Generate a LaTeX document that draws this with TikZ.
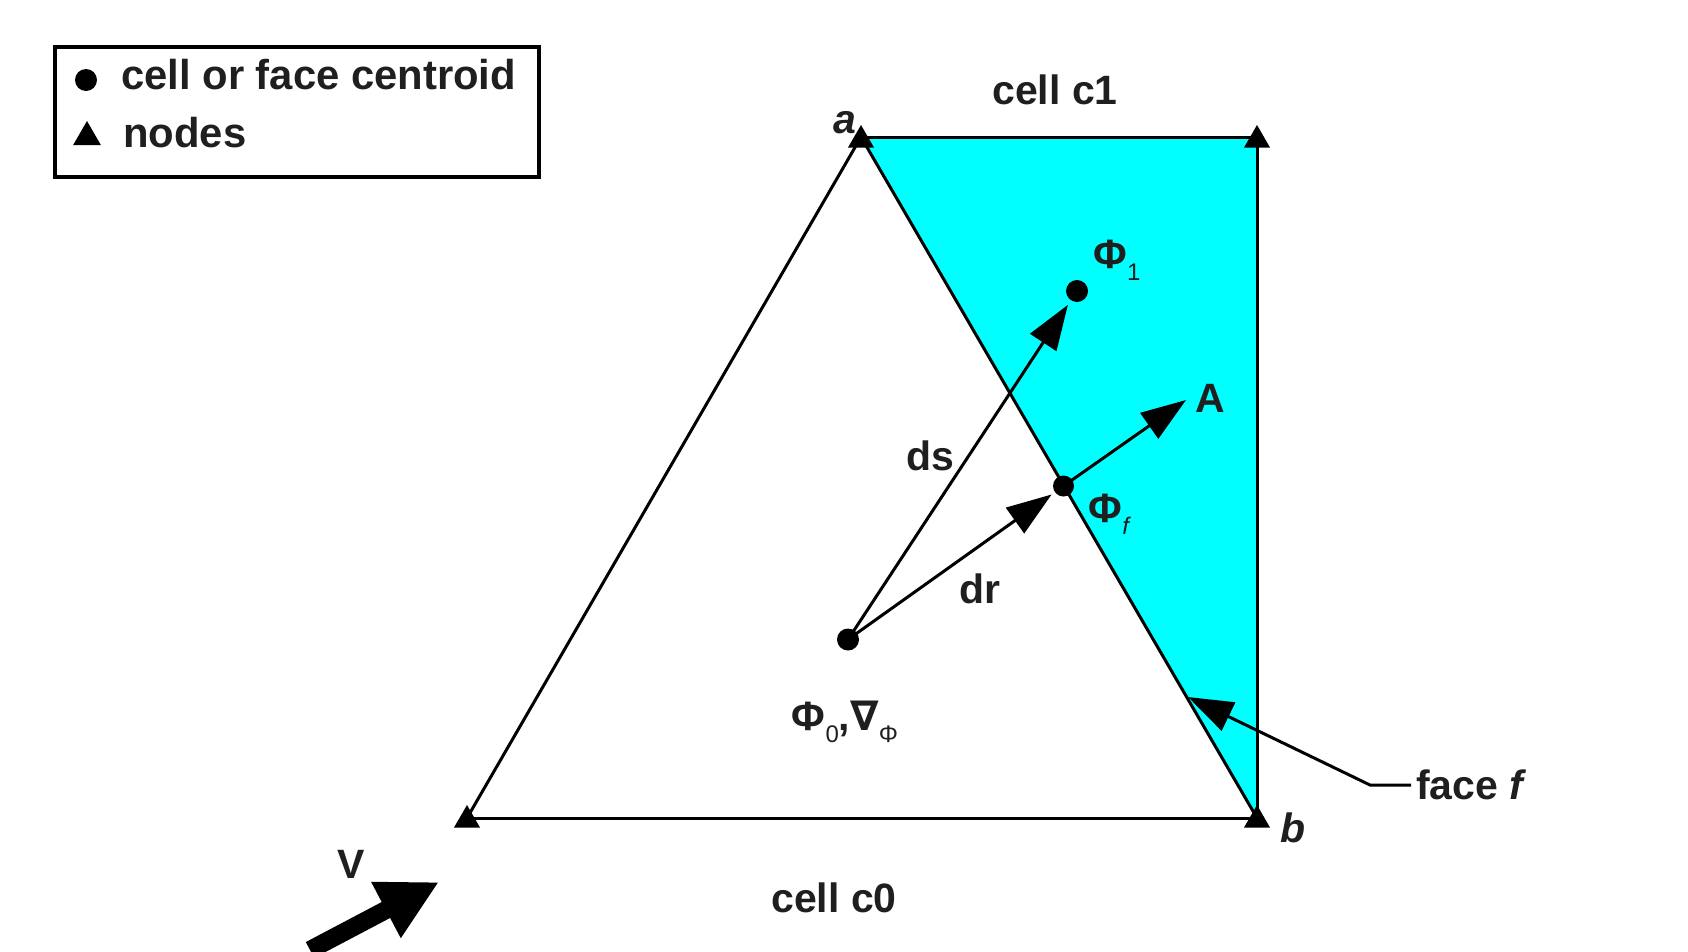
\documentclass[tikz,border=0pt]{standalone}
\usepackage{fontspec}
\setmainfont{Liberation Sans}
\newfontfamily\symfont{DejaVu Sans}
\usetikzlibrary{arrows.meta,shapes.geometric}
\definecolor{cellcyan}{rgb}{0,1,1}
\newcommand{\lowsub}[1]{\raisebox{-0.3em}{\fontsize{24}{24}\selectfont\mdseries #1}}
\tikzset{
  lbl/.style={inner sep=0pt,font=\fontsize{41}{44}\selectfont\bfseries,text=black!88},
  lblit/.style={lbl,font=\fontsize{41}{44}\selectfont\bfseries\itshape},
  legendlbl/.style={lbl,font=\fontsize{41.8}{44}\selectfont\bfseries},
  dotnode/.style={circle,fill=black,inner sep=0pt,minimum size=22pt},
  vertexmark/.style={regular polygon,regular polygon sides=3,fill=black,inner sep=0pt,minimum size=30pt},
  edgeline/.style={line width=3pt,black},
  vecline/.style={line width=3pt,black,-{Triangle[length=45pt,width=31pt]}},
}
\begin{document}
\begin{tikzpicture}[x=1pt,y=-1pt]
\useasboundingbox (0,0) rectangle (1688,951);
% corners of the cells
\coordinate (a) at (861,137);
\coordinate (c) at (1257,137);
\coordinate (b) at (1257,818);
\coordinate (d) at (467,818);
% fill of cell c1
\fill[cellcyan] (a) -- (c) -- (b) -- cycle;
% edges
\draw[edgeline] (a) -- (c);
\draw[edgeline] (c) -- (b);
\draw[edgeline] (a) -- (b);
\draw[edgeline] (a) -- (d);
\draw[edgeline] (d) -- (b);
% node marks
\node[vertexmark,yshift=-3pt] (ma) at (a) {};
\node[vertexmark,yshift=-3pt] (mc) at (c) {};
\node[vertexmark,yshift=-2pt] (mb) at (b) {};
\node[vertexmark,yshift=-2pt] (md) at (d) {};
% centroids
\node[dotnode] (p0) at (848,639.5) {};
\node[dotnode] (p1) at (1077,291) {};
\node[dotnode,minimum size=21pt] (pf) at (1063.5,486) {};
% vectors
\coordinate (atip) at (1186,400);
\coordinate (ftip) at (1188,697);
\coordinate (felbow) at (1370,785);
\coordinate (vtail) at (310,950);
\coordinate (vtip) at (439,882);
\draw[vecline,shorten >=16.6pt] (p0.center) -- (p1.center);
\draw[vecline,shorten >=14.6pt] (p0.center) -- (pf.center);
\draw[vecline] (pf.center) -- (atip);
\node[lbl,anchor=west] (facef) at (1416,785) {face \textit{f}};
\draw[vecline] ([xshift=-5pt]facef.west) -- (felbow) -- (ftip);
\draw[line width=18pt,-{Triangle[length=60pt,width=59pt]}] (vtail) -- (vtip);
% labels
\node[lbl] (c1) at (1055,90) {cell c1};
\node[lbl] (c0) at (834,898) {cell c0};
\node[lblit] (la) at (845,123) {a};
\node[lblit] (lb) at (1293,828) {b};
\node[lbl] (la1) at (1210,398) {A};
\node[lbl] (lds) at (930,456) {ds};
\node[lbl] (ldr) at (980,589) {dr};
\node[lbl] (lv) at (351,864) {V};
\node[lbl] (l1) at (1117,260) {Φ\lowsub{1}};
\node[lbl] (lf) at (1110,514) {Φ\lowsub{\textit{f}}};
\node[lbl] (l0) at (845,722) {Φ\lowsub{0},{\symfont ∇}\lowsub{Φ}};
% legend
\node[draw,line width=4pt,minimum width=484pt,minimum height=130pt,anchor=north west,inner sep=0pt] (legend) at (53,45) {};
\node[dotnode] (ldot) at (86,80) {};
\node[vertexmark,minimum size=32pt] (ltri) at (87,137) {};
\node[legendlbl,anchor=west] (ltext1) at (121,75) {cell or face centroid};
\node[legendlbl,anchor=west] (ltext2) at (123,133) {nodes};
\end{tikzpicture}
\end{document}
